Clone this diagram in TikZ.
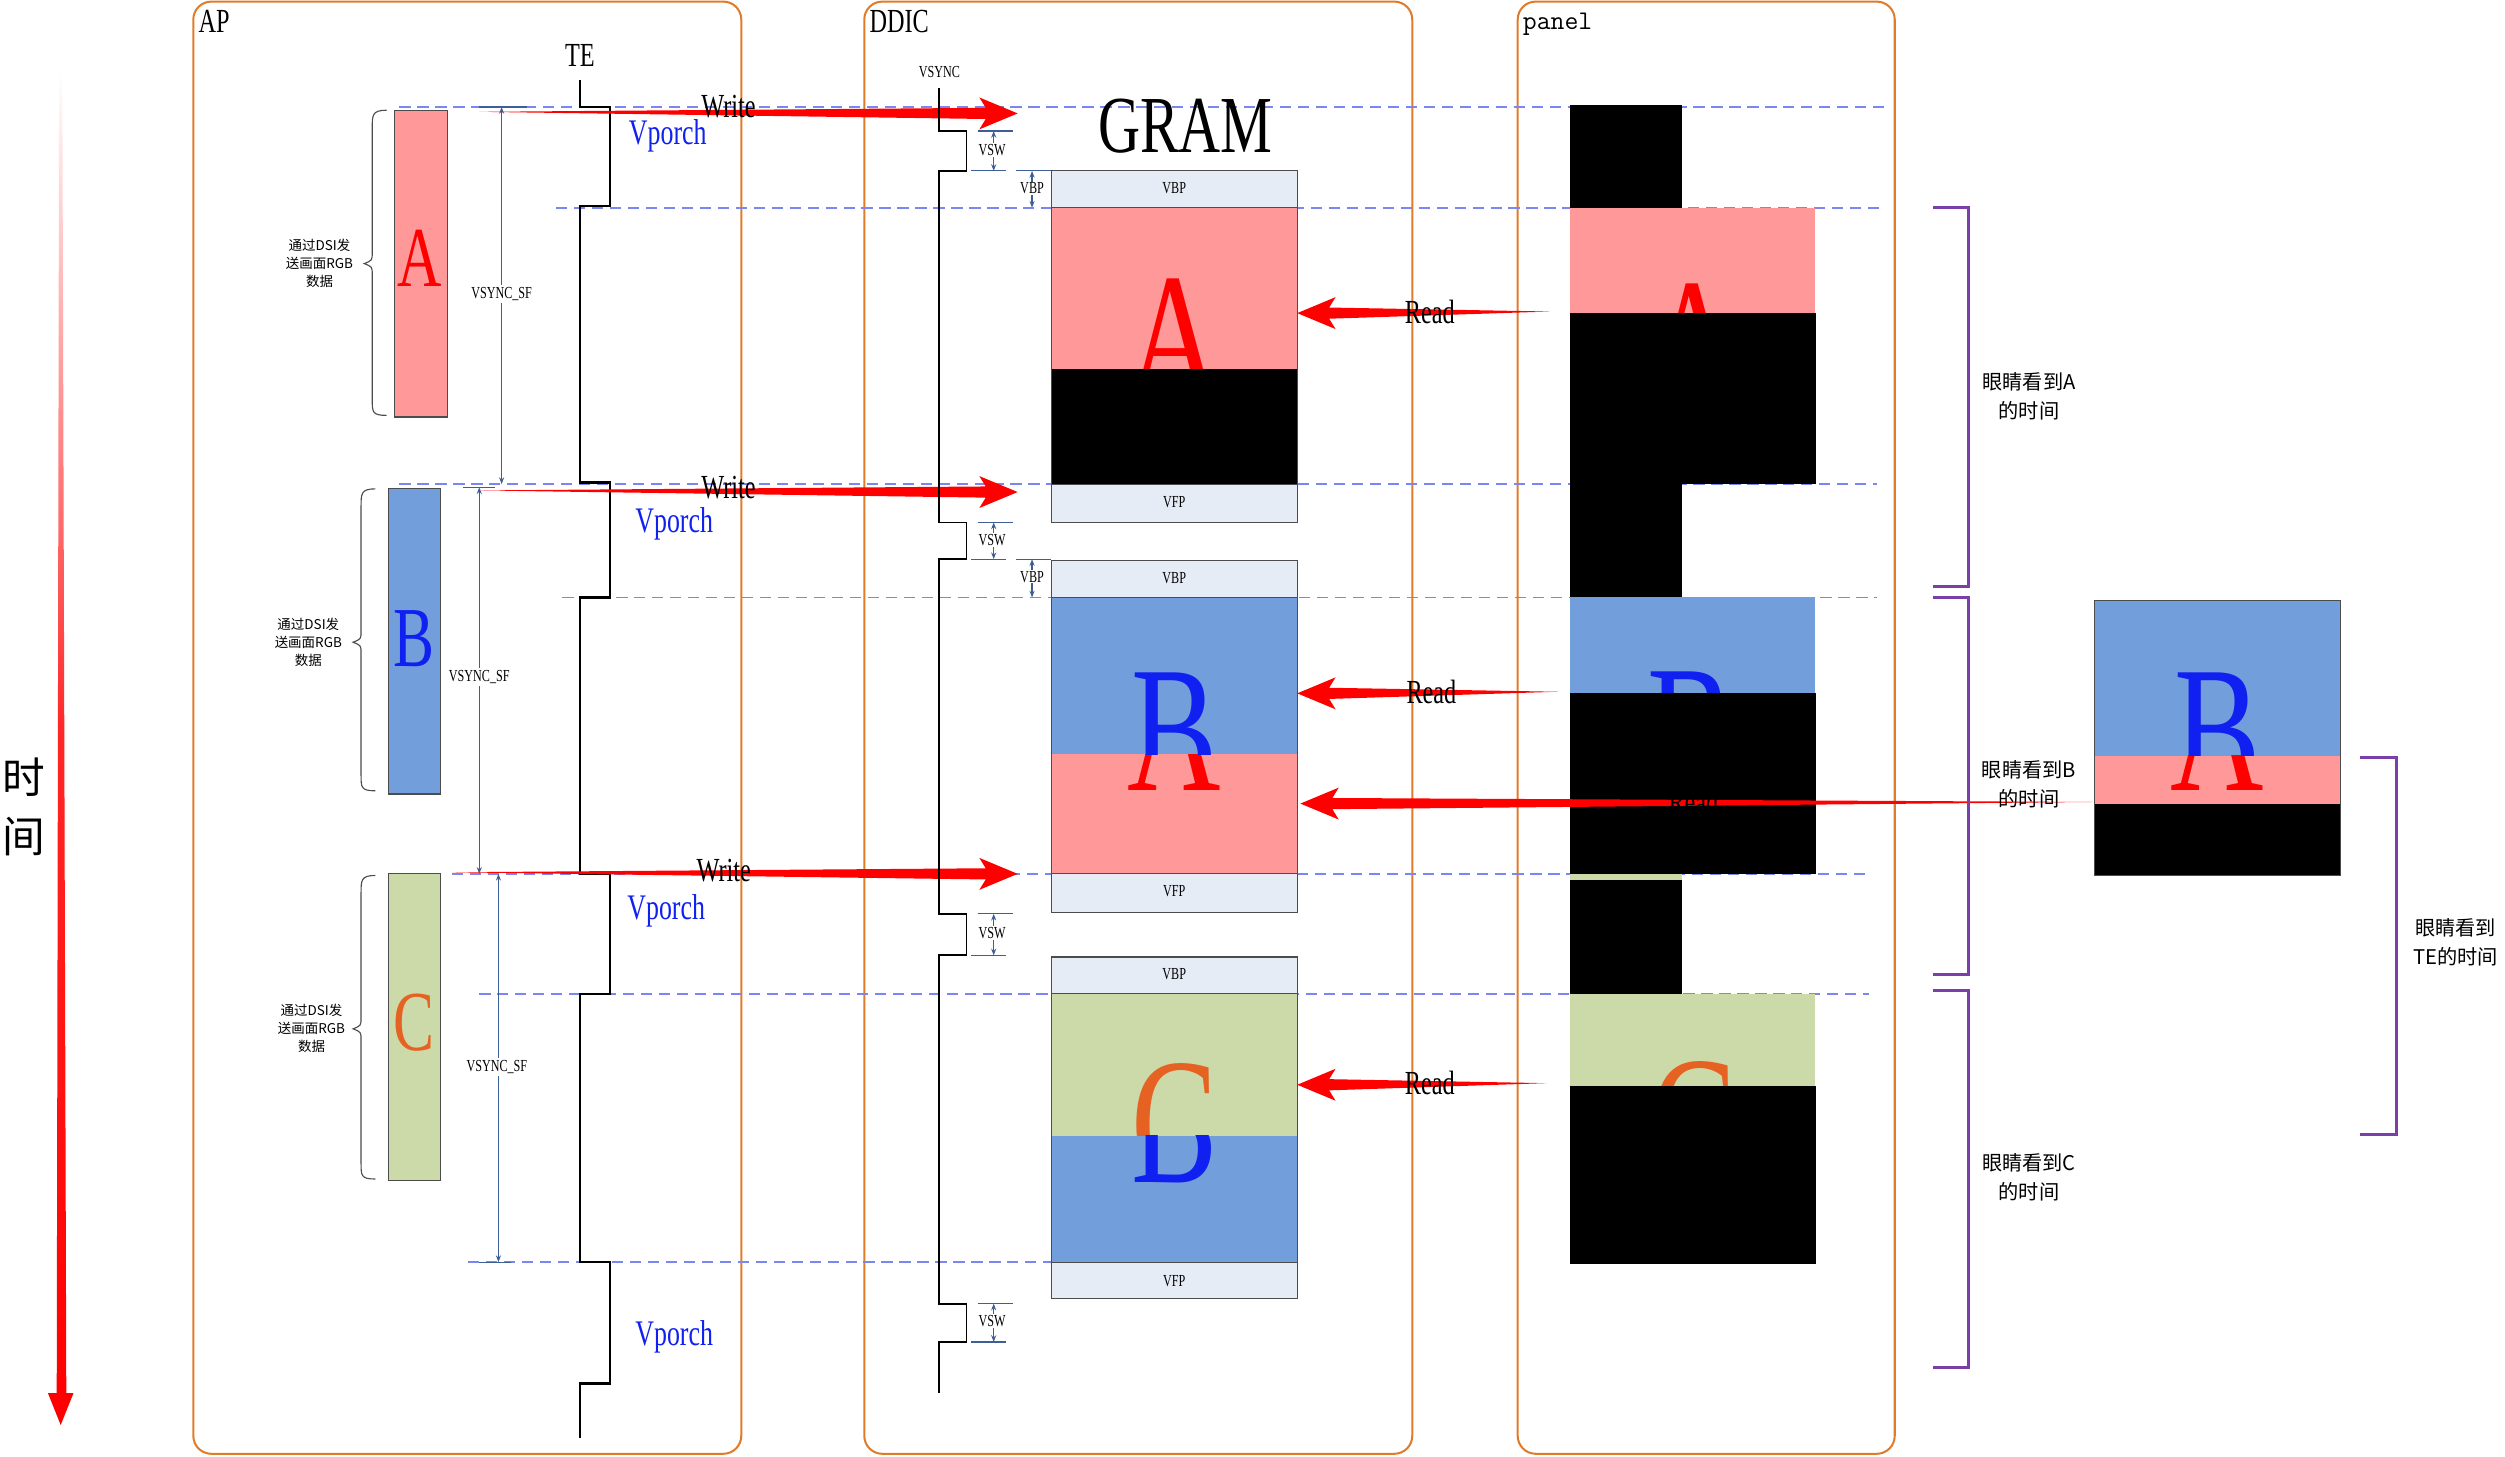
\documentclass[tikz,border=0pt]{standalone}
\usepackage{fontspec}
\usepackage{graphicx}
\setmainfont{Liberation Serif}
\newfontfamily\cjk{Noto Sans CJK SC}
\usetikzlibrary{arrows.meta}
\definecolor{orng}{HTML}{E07B2A}
\definecolor{pinkf}{HTML}{FF9999}
\definecolor{bluef}{HTML}{729FDB}
\definecolor{greenf}{HTML}{CCDAAA}
\definecolor{porch}{HTML}{E6ECF6}
\definecolor{dash}{HTML}{7B86F0}
\definecolor{dimc}{HTML}{3E5F95}
\definecolor{purp}{HTML}{7A3FA8}
\definecolor{vblue}{HTML}{1020F0}
\newcommand\cnd[1]{\scalebox{0.72}[1]{#1}}
\tikzset{
 panelbox/.style={draw=orng,line width=0.9pt,rounded corners=8},
 dline/.style={draw=dash,dashed,line width=0.8pt,dash pattern=on 5pt off 3pt},
 sig/.style={draw=black,line width=1pt},
 dim/.style={draw=dimc,line width=0.5pt,{Stealth[length=3pt]}-{Stealth[length=3pt]}},
 blk/.style={draw=black!70,line width=0.5pt},
 brk/.style={draw=purp,line width=1.2pt},
 big/.style={font=\fontsize{80}{80}\selectfont,inner sep=0,anchor=base},
 mid/.style={font=\fontsize{38}{38}\selectfont,inner sep=0},
 lbl/.style={font=\fontsize{15}{15}\selectfont,inner sep=0},
 vp/.style={font=\fontsize{16}{16}\selectfont,text=vblue,inner sep=0},
 sm/.style={font=\fontsize{7.5}{7.5}\selectfont,inner sep=0},
 cn/.style={font=\cjk\fontsize{6}{8}\selectfont,align=center,inner sep=0},
 cnb/.style={font=\cjk\fontsize{9}{13}\selectfont,align=center,inner sep=0},
}
\newcommand\rarr[3]{\fill[red] (#1,#3-1) -- (#2-20,#3-3.5) -- (#2-24,#3-10) -- (#2,#3) -- (#2-24,#3+10) -- (#2-20,#3+3.5) -- cycle;}
\newcommand\larr[3]{\fill[red] (#1,#3-1) -- (#2+20,#3-3.5) -- (#2+24,#3-10) -- (#2,#3) -- (#2+24,#3+10) -- (#2+20,#3+3.5) -- cycle;}
\begin{document}
\begin{tikzpicture}[x=0.025cm,y=-0.025cm]
\useasboundingbox (0,0) rectangle (1568,912);
% time arrow
\shade[top color=white,bottom color=red,middle color=red!85] (37,45) -- (39,45) -- (41.5,872) -- (35.5,872) -- cycle;
\fill[red] (30,872) -- (46,872) -- (38,892) -- cycle;
\node[font=\cjk\fontsize{19}{26}\selectfont,align=center] (time) at (15,505) {时\\间};
% frames
\draw[panelbox] (121,1) rectangle (464,910);
\draw[panelbox] (541,1) rectangle (884,910);
\draw[panelbox] (950,1) rectangle (1186,910);
\node[lbl,anchor=north west] (ap) at (124,6) {\cnd{AP}};
\node[lbl,anchor=north west] (ddic) at (544,6) {\cnd{DDIC}};
\node[lbl,anchor=north west,font=\ttfamily\fontsize{12}{12}\selectfont] (pnl) at (953,8) {panel};
% dashed lines
\draw[dline] (250,67) -- (1180,67);
\draw[dline] (348,130) -- (1180,130);
\draw[dline] (250,303) -- (1175,303);
\draw[dline] (352,374) -- (1175,374);
\draw[dline] (283,547) -- (1170,547);
\draw[dline] (300,622) -- (1170,622);
\draw[dline] (293,790) -- (660,790);
% TE signal
\node[lbl] (te) at (363,35) {\cnd{TE}};
\draw[sig] (363,50) -- (363,67) -- (382,67) -- (382,129) -- (363,129) -- (363,302) -- (382,302) -- (382,374) -- (363,374) -- (363,547) -- (382,547) -- (382,622) -- (363,622) -- (363,790) -- (382,790) -- (382,866) -- (363,866) -- (363,900);
% AP frames
\draw[blk,fill=pinkf] (247,69) rectangle (280,261);
\node[mid,text=red] (la) at (263,162) {\cnd{A}};
\draw[blk,fill=bluef] (243,306) rectangle (276,497);
\node[mid,text=vblue] (lb) at (259,400) {\cnd{B}};
\draw[blk,fill=greenf] (243,547) rectangle (276,739);
\node[mid,text=orng!80!red] (lc) at (259,640) {\cnd{C}};
\draw[black!70,line width=0.5pt] (242,69) .. controls (233,69) and (233,72) .. (233,80) -- (233,158) .. controls (233,163) .. (228,165) .. controls (233,167) .. (233,172) -- (233,250) .. controls (233,258) and (233,260) .. (242,260);
\draw[black!70,line width=0.5pt] (235,306) .. controls (226,306) and (226,309) .. (226,317) -- (226,395) .. controls (226,400) .. (221,402) .. controls (226,404) .. (226,409) -- (226,485) .. controls (226,493) and (226,495) .. (235,495);
\draw[black!70,line width=0.5pt] (235,548) .. controls (226,548) and (226,551) .. (226,559) -- (226,637) .. controls (226,642) .. (221,644) .. controls (226,646) .. (226,651) -- (226,728) .. controls (226,736) and (226,738) .. (235,738);
\node[cn] (ta) at (200,165) {通过DSI发\\送画面RGB\\数据};
\node[cn] (tb) at (193,402) {通过DSI发\\送画面RGB\\数据};
\node[cn] (tc) at (195,644) {通过DSI发\\送画面RGB\\数据};
% VSYNC_SF
\draw[dim] (314,67) -- (314,303);
\node[sm,fill=white,inner sep=1pt] at (314,184) {\cnd{VSYNC\_SF}};
\draw[dim] (300,305) -- (300,547);
\node[sm,fill=white,inner sep=1pt] at (300,424) {\cnd{VSYNC\_SF}};
\draw[dim] (312,547) -- (312,790);
\node[sm,fill=white,inner sep=1pt] at (311,668) {\cnd{VSYNC\_SF}};
\draw[dimc,line width=0.5pt] (300,67) -- (330,67) (290,305) -- (310,305) (300,790) -- (320,790);
% Write arrows
\rarr{300}{637}{71}
\rarr{300}{637}{308}
\rarr{283}{637}{547}
\node[lbl] (w1) at (456,67) {\cnd{Write}};
\node[lbl] (w2) at (456,305) {\cnd{Write}};
\node[lbl] (w3) at (453,545) {\cnd{Write}};
\node[vp] (v1) at (418,85) {\cnd{Vporch}};
\node[vp] (v2) at (422,328) {\cnd{Vporch}};
\node[vp] (v3) at (417,570) {\cnd{Vporch}};
\node[vp] (v4) at (422,837) {\cnd{Vporch}};
% VSYNC signal
\node[sm] (vs) at (588,45) {\cnd{VSYNC}};
\draw[sig,line width=0.8pt] (588,55) -- (588,82) -- (605,82) -- (605,107) -- (588,107) -- (588,327) -- (605,327) -- (605,350) -- (588,350) -- (588,572) -- (605,572) -- (605,598) -- (588,598) -- (588,816) -- (605,816) -- (605,840) -- (588,840) -- (588,872);
\foreach \a/\b/\l in {82/107/94,327/350/338,572/598/584,816/840/827}{
 \draw[dimc,line width=0.5pt] (612,\a) -- (634,\a) (608,\b) -- (630,\b);
 \draw[dim] (622,\a) -- (622,\b);
 \node[sm,fill=white,inner sep=0.5pt] at (621,\l) {\cnd{VSW}};
}
\foreach \a/\b/\l in {107/130/118,350/374/361}{
 \draw[dimc,line width=0.5pt] (636,\a) -- (658,\a);
 \draw[dim] (646,\a) -- (646,\b);
 \node[sm,fill=white,inner sep=0.5pt] at (646,\l) {\cnd{VBP}};
}
\node[font=\fontsize{36}{36}\selectfont,inner sep=0] (gram) at (742,79) {\cnd{GRAM}};
% GRAM frame 1
\draw[blk,fill=porch] (658,107) rectangle (812,130); \node[sm] at (735,118) {\cnd{VBP}};
\fill[pinkf] (658,130) rectangle (812,231);
\begin{scope}\clip (658,130) rectangle (812,231); \node[big,text=red] at (735,249) {\cnd{A}}; \end{scope}
\fill[black] (658,231) rectangle (812,303);
\draw[blk] (658,130) rectangle (812,303);
\draw[blk,fill=porch] (658,303) rectangle (812,327); \node[sm] at (735,314) {\cnd{VFP}};
% GRAM frame 2
\draw[blk,fill=porch] (658,351) rectangle (812,374); \node[sm] at (735,362) {\cnd{VBP}};
\fill[bluef] (658,374) rectangle (812,472);
\fill[pinkf] (658,472) rectangle (812,547);
\begin{scope}\clip (658,472) rectangle (812,547); \node[big,text=red] at (735,495) {\cnd{A}}; \end{scope}
\begin{scope}\clip (658,374) rectangle (812,472); \node[big,text=vblue] at (735,495) {\cnd{B}}; \end{scope}
\draw[blk] (658,374) rectangle (812,547);
\draw[blk,fill=porch] (658,547) rectangle (812,571); \node[sm] at (735,558) {\cnd{VFP}};
% GRAM frame 3
\draw[blk,fill=porch] (658,599) rectangle (812,622); \node[sm] at (735,610) {\cnd{VBP}};
\fill[greenf] (658,622) rectangle (812,711);
\fill[bluef] (658,711) rectangle (812,790);
\begin{scope}\clip (658,622) rectangle (812,711); \node[big,text=orng!80!red] at (735,740) {\cnd{C}}; \end{scope}
\begin{scope}\clip (658,711) rectangle (812,790); \node[big,text=vblue] at (735,740) {\cnd{B}}; \end{scope}
\draw[blk] (658,622) rectangle (812,790);
\draw[blk,fill=porch] (658,790) rectangle (812,813); \node[sm] at (735,802) {\cnd{VFP}};
% panel
\fill[black] (983,66) rectangle (1053,130);
\fill[pinkf] (983,130) rectangle (1136,196);
\begin{scope}\clip (983,130) rectangle (1136,196); \node[big,text=red] at (1060,252) {\cnd{A}}; \end{scope}
\fill[black] (983,196) rectangle (1137,303);
\fill[black] (983,303) rectangle (1053,374);
\fill[bluef] (983,374) rectangle (1136,434);
\begin{scope}\clip (983,374) rectangle (1136,434); \node[big,text=vblue] at (1058,494) {\cnd{B}}; \end{scope}
\fill[black] (983,434) rectangle (1137,547);
\fill[greenf] (983,547) rectangle (1053,551);
\fill[black] (983,551) rectangle (1053,622);
\fill[greenf] (983,622) rectangle (1136,680);
\begin{scope}\clip (983,622) rectangle (1136,680); \node[big,text=orng!80!red] at (1060,739) {\cnd{C}}; \end{scope}
\fill[black] (983,680) rectangle (1137,791);
% right image
\fill[bluef] (1311,376) rectangle (1465,473);
\fill[pinkf] (1311,473) rectangle (1465,503);
\begin{scope}\clip (1311,473) rectangle (1465,503); \node[big,text=red] at (1388,495) {\cnd{A}}; \end{scope}
\begin{scope}\clip (1311,376) rectangle (1465,473); \node[big,text=vblue] at (1388,495) {\cnd{B}}; \end{scope}
\fill[black] (1311,503) rectangle (1465,548);
\draw[blk] (1311,376) rectangle (1465,548);
% Read arrows
\larr{970}{812}{196}
\larr{975}{812}{434}
\larr{1310}{814}{503}
\larr{968}{812}{679}
\node[lbl] (r1) at (895,195) {\cnd{Read}};
\node[lbl] (r2) at (896,433) {\cnd{Read}};
\node[lbl] (r3) at (1060,502) {\cnd{Read}};
\node[lbl] (r4) at (895,678) {\cnd{Read}};
% brackets
\draw[brk] (1210,130) -- (1232,130) -- (1232,367) -- (1210,367);
\draw[brk] (1210,374) -- (1232,374) -- (1232,610) -- (1210,610);
\draw[brk] (1210,620) -- (1232,620) -- (1232,856) -- (1210,856);
\draw[brk] (1477,474) -- (1500,474) -- (1500,710) -- (1477,710);
\node[cnb] (ea) at (1270,248) {眼睛看到A\\的时间};
\node[cnb] (eb) at (1270,491) {眼睛看到B\\的时间};
\node[cnb] (ec) at (1270,737) {眼睛看到C\\的时间};
\node[cnb] (et) at (1537,590) {眼睛看到\\TE的时间};
\end{tikzpicture}
\end{document}
